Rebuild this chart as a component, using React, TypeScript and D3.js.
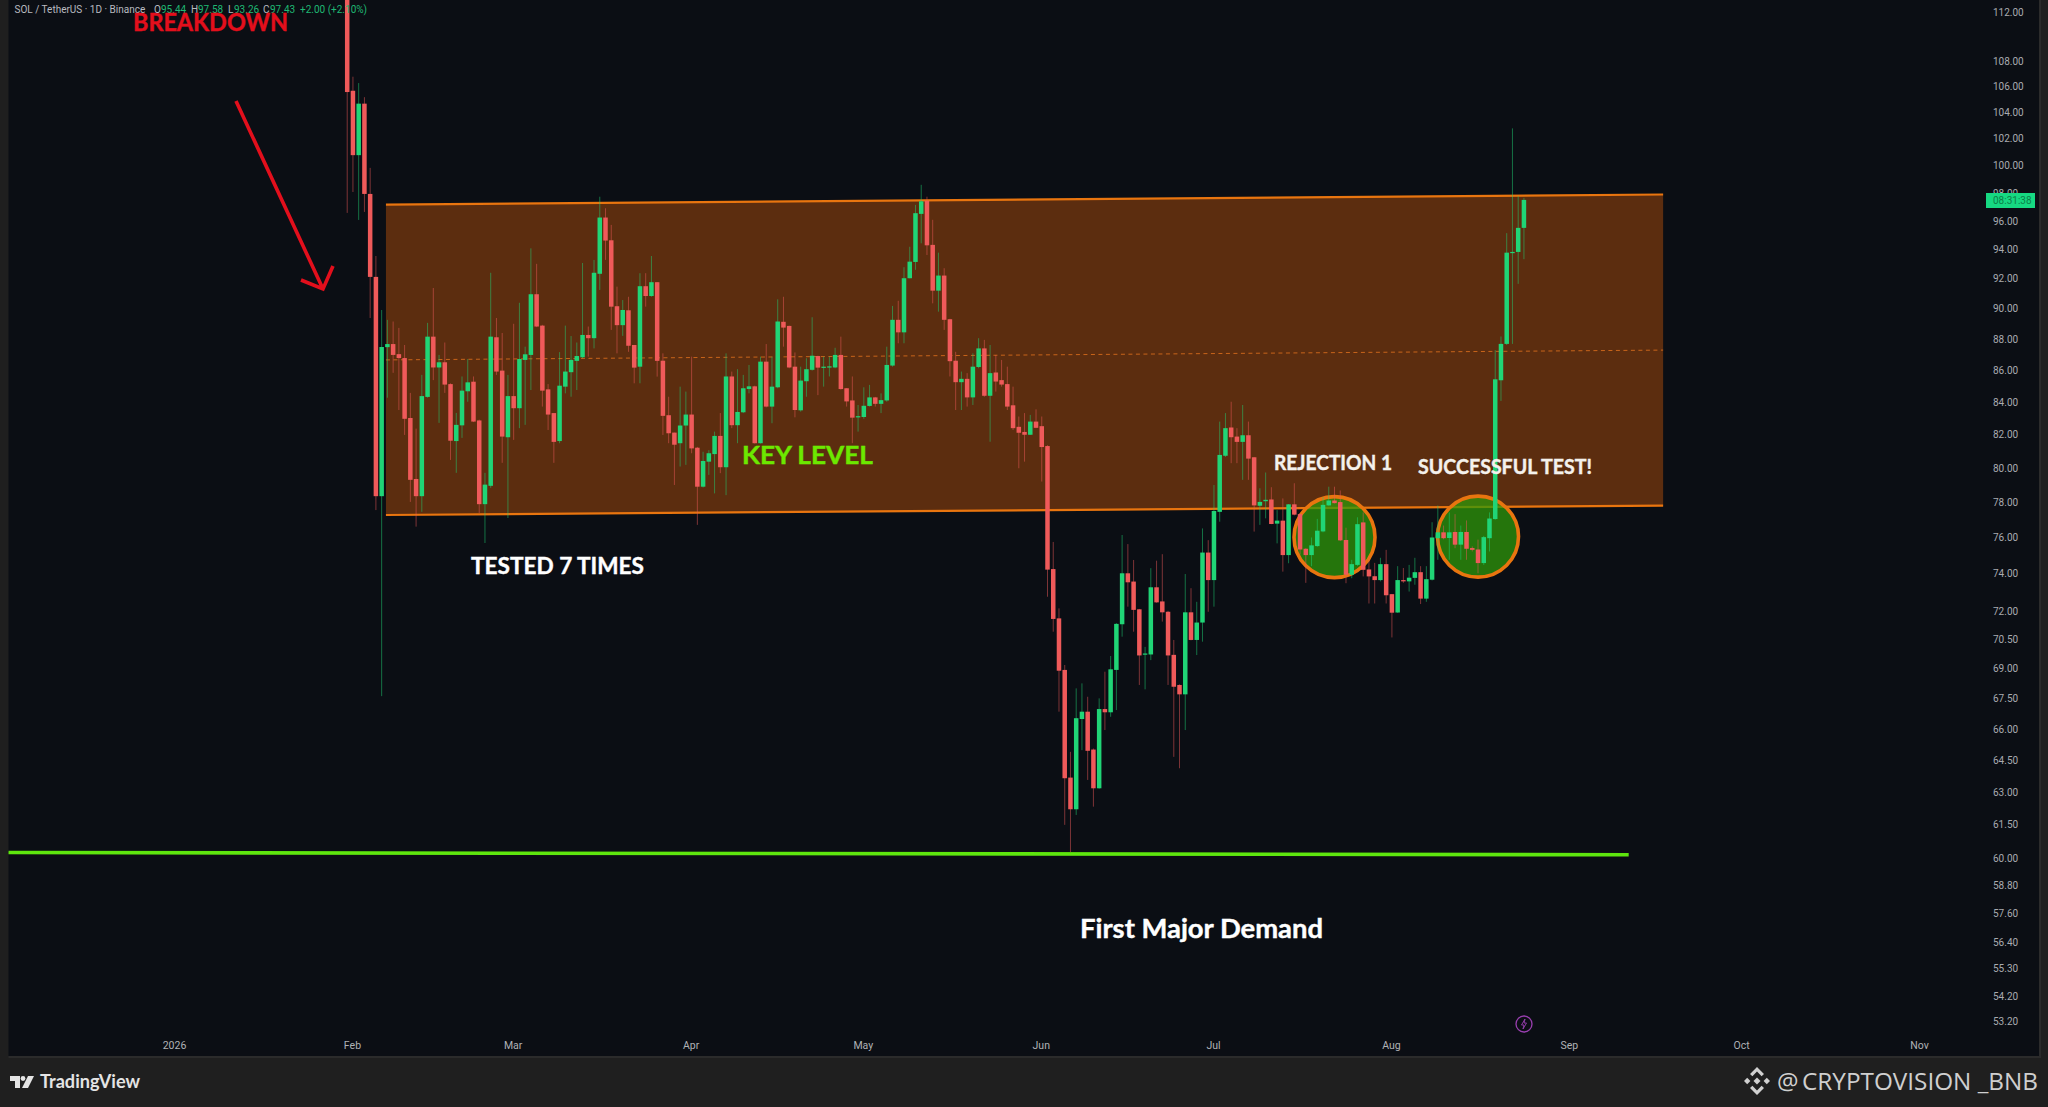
import React, { useEffect, useRef } from 'react';
import * as d3 from 'd3';

// daily candles, first one is 31 Jan 2026
const firstDay = new Date(Date.UTC(2026, 0, 31));

const opens = [
  116,105.6,100.7,104.6,97.86,92.05,78.3,
  87.4,87.6,86.95,86.7,82.95,79.3,78.3,
  84.25,88.08,86.1,86.43,85.05,81.55,82.5,84.6,85.2,82.8,
  77.84,78.9,88.04,85.9,81.78,84.3,83.55,86.58,86.9,90.88,
  88.8,84.72,83.25,81.55,84.89,85.8,86.52,86.75,88.19,87.98,
  92.26,96.17,94.57,90.08,88.83,89.81,87.54,86.15,91.42,90.76,
  91.69,86.53,83.12,82.06,
  81.42,82.49,83.16,81.15,78.85,80.32,80.77,81.86,79.99,85.53,
  82.51,83.3,84.74,84.91,81.42,86.47,83.65,84.85,89.05,88.78,
  86.15,83.42,85.23,85.95,86.83,86.09,86.1,86.1,86.9,84.79,
  84.03,83.01,83.01,83.69,84.22,83.82,84.03,86.22,89.18,88.36,
  91.96,93.07,96.43,97.37,94.25,91.12,92.14,89.22,86.53,85.17,
  85.38,84.22,86.13,87.32,84.32,85.78,85.3,85.05,83.73,82.41,
  82.1,81.93,82.73,82.45,
  81.25,74.2,71.55,68.88,63.62,62.15,66.43,66.79,64.95,63.12,
  66.92,66.76,68.88,71.24,73.97,73.52,72.03,69.67,69.67,73.21,
  72.45,71.9,69.65,68.12,67.65,71.87,70.42,71.33,75.11,73.6,
  77.4,80.67,82.37,81.82,81.5,81.9,80.58,77.75,78.01,78.11,
  76.73,76.9,74.97,77.83,77.27,75.32,74.97,75.47,76.29,77.77,
  78.05,77.96,75.81,73.89,74.43,76.8,74.18,73.81,73.6,74.47,
  72.84,71.86,73.6,73.53,73.72,74.03,72.6,73.62,75.91,76.24,
  75.92,76.26,75.55,76.26,75.36,75.28,74.53,75.91,76.99,85.29,
  87.61,93.69,93.76,95.44,
];

const highs = [
  118,106.7,106.2,105.1,99.76,93.48,89.83,
  89.18,89.07,88.65,87.54,84.5,82.3,85.63,
  88.98,91.3,86.9,87.7,85.1,83.26,85.53,86.64,85.53,82.85,
  79.66,92.33,89.3,88.32,85.63,88.92,90.31,87.43,94.01,92.94,
  88.85,85.05,83.25,87.08,88.8,88.12,87.7,93.0,88.74,93.21,
  97.66,96.83,95.65,91.39,90.49,90.71,87.54,92.3,92.3,93.48,
  91.7,87.0,84.26,82.06,
  84.89,84.58,86.79,81.2,80.91,81.0,82.12,83.25,87.0,85.84,
  85.99,85.63,86.26,84.95,86.79,87.6,86.79,90.54,90.71,88.8,
  87.06,86.15,86.69,89.35,86.85,86.79,86.79,87.36,88.08,84.8,
  85.53,83.75,84.85,85.0,84.25,84.47,87.43,90.1,90.44,92.71,
  94.12,97.07,98.52,97.66,96.01,93.71,92.64,89.25,87.1,85.84,
  85.74,87.0,87.98,87.87,87.54,86.9,86.58,86.15,84.89,83.04,
  83.25,83.14,83.48,83.04,
  81.3,75.7,72.08,69.13,64.84,67.95,68.2,67.53,65.0,67.45,
  68.79,69.59,71.3,76.09,75.58,74.7,72.05,70.06,74.25,74.66,
  75.02,71.95,70.42,68.15,73.93,73.16,72.43,76.46,75.8,78.95,
  82.73,83.25,83.95,82.33,83.75,82.73,80.6,78.76,79.68,78.82,
  77.5,78.17,77.85,79.05,77.3,75.35,75.95,77.0,78.25,78.85,
  78.85,78.63,76.5,74.71,77.09,77.37,74.9,74.54,74.82,75.26,
  72.85,74.36,74.26,74.43,74.82,74.36,74.36,76.81,77.76,76.62,
  77.37,77.27,76.62,76.91,75.45,75.83,76.04,77.37,87.21,88.09,
  95.07,102.71,97.7,97.58,
];

const lows = [
  96.5,98,96,96.57,89.3,77.5,67.56,
  84.2,85.76,83.44,81.92,77.97,76.56,77.4,
  84.2,85.3,82.65,84.5,80.42,79.66,81.74,83.95,82.7,77.33,
  75.64,78.78,85.63,80.25,77.05,81.62,82.33,82.53,84.68,88.7,
  83.65,82.22,80.25,81.42,84.47,84.26,84.68,86.68,86.79,87.32,
  91.17,93.21,88.52,87.0,88.13,87.1,85.1,85.1,90.05,90.71,
  85.52,81.92,81.42,78.95,
  80.03,80.13,80.82,76.66,78.8,79.54,78.46,79.64,78.36,82.33,
  81.42,83.25,84.47,81.4,81.4,83.6,82.63,84.79,87.43,86.05,
  82.99,83.34,84.26,85.9,84.36,84.89,85.53,86.05,84.7,83.65,
  81.42,82.12,82.9,83.65,83.65,83.25,83.95,86.15,87.65,87.65,
  91.95,92.53,94.36,93.55,90.27,89.72,88.52,85.53,83.44,83.44,
  83.65,83.75,86.05,84.26,81.51,84.58,84.89,83.44,82.22,79.93,
  80.32,81.92,82.33,79.15,
  72.7,70.85,66.79,61.44,60.22,61.89,64.92,63.51,62.27,63.1,
  65.89,66.54,66.87,70.59,72.17,70.85,68.12,67.9,69.38,72.38,
  71.38,68.12,64.6,64.06,65.89,70.4,69.64,70.33,71.9,72.17,
  76.84,80.6,80.23,80.23,79.25,79.25,76.28,76.66,77.03,76.7,
  75.62,74.06,74.52,77.2,75.0,73.45,74.36,75.43,76.24,77.75,
  77.88,75.75,73.43,73.7,74.37,73.8,72.34,72.34,73.53,72.34,
  70.55,71.84,73.45,72.98,73.35,72.31,72.43,73.58,74.71,75.85,
  74.71,75.35,74.71,74.71,75.17,73.97,74.43,75.17,76.95,84.0,
  87.54,87.61,91.58,93.26,
];

const closes = [
  105.5,100.7,104.6,97.86,92.05,78.3,87.41,
  87.6,86.9,86.7,82.9,79.25,78.3,84.3,
  88.08,86.1,86.43,85.02,81.57,82.53,84.64,85.16,82.73,77.84,
  78.97,88.08,85.84,81.82,84.3,83.55,86.64,86.94,90.88,88.74,
  84.64,83.16,81.5,84.95,85.84,86.58,86.83,88.19,87.98,92.33,
  96.17,94.55,90.05,88.83,89.83,87.49,86.09,91.42,90.76,91.69,
  86.52,83.08,82.02,81.33,
  82.49,83.16,81.11,78.85,80.36,80.82,81.86,79.99,85.53,82.51,
  83.32,84.79,84.91,81.42,86.47,83.65,84.89,89.07,88.67,86.1,
  83.44,85.27,85.99,86.85,86.09,86.15,86.17,86.9,84.74,83.97,
  82.97,83.06,83.7,84.22,83.82,84.05,86.26,89.18,88.36,91.96,
  93.09,96.48,97.33,94.22,91.12,92.14,89.18,86.5,85.17,85.38,
  84.22,86.15,87.32,84.32,85.74,85.21,85.02,83.65,82.33,82.05,
  81.93,82.73,82.35,81.19,
  74.17,71.52,68.84,63.59,62.15,66.47,66.79,64.89,63.12,66.92,
  66.76,68.91,71.26,73.97,73.48,72.0,69.62,69.72,73.21,72.4,
  71.87,69.62,68.03,67.65,71.87,70.42,71.33,75.11,73.6,77.45,
  80.72,82.33,81.78,81.5,81.9,80.5,77.77,77.97,78.09,76.71,
  76.9,74.97,77.83,77.24,75.28,74.97,75.51,76.33,77.8,78.05,
  77.9,75.79,73.89,74.47,76.7,74.16,73.8,73.6,74.47,72.78,
  71.85,73.6,73.53,73.73,74.03,72.6,73.65,75.95,76.24,75.91,
  76.24,75.55,76.26,75.32,75.26,74.53,75.97,77.02,85.35,87.61,
  93.71,93.76,95.44,97.43,
];

const priceTicks = [
  112, 108, 106, 104, 102, 100, 98, 96, 94, 92, 90, 88, 86, 84, 82, 80, 78, 76, 74, 72,
  70.5, 69, 67.5, 66, 64.5, 63, 61.5, 60, 58.8, 57.6, 56.4, 55.3, 54.2, 53.2,
];
const monthTicks = [0, 1, 2, 3, 4, 5, 6, 7, 8, 9, 10].map(m => new Date(Date.UTC(2026, m, 1)));
const monthLabels = ['2026', 'Feb', 'Mar', 'Apr', 'May', 'Jun', 'Jul', 'Aug', 'Sep', 'Oct', 'Nov'];

// the drawn channel: dates, then prices at those two dates
const bandDates = [new Date(Date.UTC(2026, 1, 6, 18)), new Date(Date.UTC(2026, 8, 17, 6))];
const bandTop = [97.09, 97.82];
const bandMid = [86.58, 87.21];
const bandBottom = [77.22, 77.76];

const supportDates = [new Date(Date.UTC(2025, 11, 3)), new Date(Date.UTC(2026, 8, 11, 6))];
const supportPrices = [60.2, 60.1];

const circleDates = [new Date(Date.UTC(2026, 6, 22)), new Date(Date.UTC(2026, 7, 16))];
const circlePrices = [75.97, 76.0];

const legendParts = [
  { x: 14.5, t: 'SOL / TetherUS · 1D · Binance', c: '#b9bbc0' },
  { x: 154, t: 'O', c: '#b9bbc0' },
  { x: 161, t: '95.44', c: '#1fb873' },
  { x: 191, t: 'H', c: '#b9bbc0' },
  { x: 198, t: '97.58', c: '#1fb873' },
  { x: 228, t: 'L', c: '#b9bbc0' },
  { x: 234, t: '93.26', c: '#1fb873' },
  { x: 263, t: 'C', c: '#b9bbc0' },
  { x: 270, t: '97.43', c: '#1fb873' },
  { x: 300, t: '+2.00 (+2.10%)', c: '#1fb873' },
];

const notes = [
  { x: 133, y: 31, t: 'BREAKDOWN', c: '#e30f1c', size: 24, len: 155 },
  { x: 742, y: 464, t: 'KEY LEVEL', c: '#6ce800', size: 25, len: 131 },
  { x: 471, y: 574, t: 'TESTED 7 TIMES', c: '#ffffff', size: 22, len: 173 },
  { x: 1274, y: 470, t: 'REJECTION 1', c: '#f4f1ec', size: 20, len: 118 },
  { x: 1418, y: 474, t: 'SUCCESSFUL TEST!', c: '#f4f1ec', size: 20, len: 174 },
  { x: 1080, y: 938, t: 'First Major Demand', c: '#ffffff', size: 26, len: 243 },
];

const W = 2048;
const H = 1107;
const GREEN = '#20d576';
const RED = '#ef5a5a';
const ORANGE = '#e9750f';

export default function App() {
  const ref = useRef<SVGSVGElement>(null);

  useEffect(() => {
    const svg = d3.select(ref.current);
    svg.selectAll('*').remove();

    const x = d3
      .scaleUtc()
      .domain([new Date(Date.UTC(2026, 0, 1)), new Date(Date.UTC(2026, 10, 1))])
      .range([175, 1920]);
    const y = d3.scaleLog().domain([112, 60]).range([11, 857]);

    // background and frame
    svg.append('rect').attr('width', W).attr('height', H).attr('fill', '#1f1f1f');
    svg.append('rect').attr('x', 8.5).attr('y', 0).attr('width', 2030.5).attr('height', 1056).attr('fill', '#0b0e14');
    svg.append('rect').attr('x', 8.5).attr('y', 1056).attr('width', 2030.5).attr('height', 2).attr('fill', '#2b2b2b');
    svg.append('rect').attr('x', 2039).attr('y', 0).attr('width', 2).attr('height', 1058).attr('fill', '#2b2b2b');

    // channel
    svg
      .append('polygon')
      .attr(
        'points',
        [
          [x(bandDates[0]), y(bandTop[0])],
          [x(bandDates[1]), y(bandTop[1])],
          [x(bandDates[1]), y(bandBottom[1])],
          [x(bandDates[0]), y(bandBottom[0])],
        ].join(' '),
      )
      .attr('fill', '#5c2d0f');
    const bandLines = [bandTop, bandBottom];
    svg
      .selectAll('.band-edge')
      .data(bandLines)
      .enter()
      .append('line')
      .attr('x1', x(bandDates[0]))
      .attr('x2', x(bandDates[1]))
      .attr('y1', d => y(d[0]))
      .attr('y2', d => y(d[1]))
      .attr('stroke', ORANGE)
      .attr('stroke-width', 2.2);
    svg
      .append('line')
      .attr('x1', x(bandDates[0]))
      .attr('x2', x(bandDates[1]))
      .attr('y1', y(bandMid[0]))
      .attr('y2', y(bandMid[1]))
      .attr('stroke', '#c8641a')
      .attr('stroke-width', 1)
      .attr('stroke-dasharray', '4 3.5');

    // support line
    svg
      .append('line')
      .attr('x1', x(supportDates[0]))
      .attr('x2', x(supportDates[1]))
      .attr('y1', y(supportPrices[0]))
      .attr('y2', y(supportPrices[1]))
      .attr('stroke', '#5ee60e')
      .attr('stroke-width', 3.6);

    // circles
    svg
      .selectAll('.test-circle')
      .data(circleDates)
      .enter()
      .append('circle')
      .attr('cx', d => x(d))
      .attr('cy', (d, i) => y(circlePrices[i]))
      .attr('r', 40.5)
      .attr('fill', 'rgb(47,152,9)')
      .attr('fill-opacity', 0.75)
      .attr('stroke', ORANGE)
      .attr('stroke-width', 3.6);

    // candles
    const candles = opens.map((o, i) => ({
      day: d3.utcDay.offset(firstDay, i),
      o,
      h: highs[i],
      l: lows[i],
      c: closes[i],
    }));
    const bodyW = 4.5;
    svg
      .selectAll('.wick')
      .data(candles)
      .enter()
      .append('line')
      .attr('x1', d => x(d.day))
      .attr('x2', d => x(d.day))
      .attr('y1', d => y(d.h))
      .attr('y2', d => y(d.l))
      .attr('stroke', d => (d.c >= d.o ? GREEN : RED))
      .attr('stroke-opacity', 0.5)
      .attr('stroke-width', 1);
    svg
      .selectAll('.body')
      .data(candles)
      .enter()
      .append('rect')
      .attr('x', d => x(d.day) - bodyW / 2)
      .attr('width', bodyW)
      .attr('y', d => y(Math.max(d.o, d.c)))
      .attr('height', d => Math.max(1.2, y(Math.min(d.o, d.c)) - y(Math.max(d.o, d.c))))
      .attr('fill', d => (d.c >= d.o ? GREEN : RED));

    // price axis
    const yAxis = d3
      .axisRight(y)
      .tickValues(priceTicks)
      .tickSize(0)
      .tickPadding(0)
      .tickFormat(d3.format('.2f') as any);
    const gy = svg.append('g').attr('transform', 'translate(1993,1)').call(yAxis as any);
    gy.select('.domain').remove();
    gy.selectAll('text').attr('font-family', 'Roboto').attr('font-size', 10).attr('fill', '#a9abb0');

    // time axis
    const xAxis = d3
      .axisBottom(x)
      .tickValues(monthTicks)
      .tickSize(0)
      .tickPadding(3)
      .tickFormat((d, i) => monthLabels[i]);
    const gx = svg.append('g').attr('transform', 'translate(-1,1039)').call(xAxis as any);
    gx.select('.domain').remove();
    gx.selectAll('text').attr('font-family', 'Roboto').attr('font-size', 10.5).attr('fill', '#b0b2b6');

    // countdown tag on the last price
    svg.append('rect').attr('x', 1986).attr('y', 193).attr('width', 49).attr('height', 15).attr('fill', '#16d982');
    svg
      .append('text')
      .attr('x', 1993)
      .attr('y', 204)
      .attr('font-family', 'Roboto')
      .attr('font-size', 10)
      .attr('fill', '#0c8048')
      .text('08:31:38');

    // legend line
    svg
      .selectAll('.legend')
      .data(legendParts)
      .enter()
      .append('text')
      .attr('x', d => d.x)
      .attr('y', 13)
      .attr('font-family', 'Roboto')
      .attr('font-size', 10)
      .attr('fill', d => d.c)
      .text(d => d.t);

    // annotations
    svg
      .selectAll('.note')
      .data(notes)
      .enter()
      .append('text')
      .attr('x', d => d.x)
      .attr('y', d => d.y)
      .attr('font-family', 'Lato')
      .attr('font-weight', 700)
      .attr('font-size', d => d.size)
      .attr('fill', d => d.c)
      .attr('stroke', d => d.c)
      .attr('stroke-width', 0.4)
      .attr('textLength', d => d.len)
      .attr('lengthAdjust', 'spacingAndGlyphs')
      .text(d => d.t);

    // red arrow
    const arrow = d3.line();
    svg
      .append('path')
      .attr('d', arrow([[236, 101], [323, 289]]) + arrow([[301, 280], [323, 289], [333, 266]]))
      .attr('fill', 'none')
      .attr('stroke', '#e30f1c')
      .attr('stroke-width', 3.6);

    // lightning badge
    const badge = svg.append('g').attr('transform', 'translate(1524,1024)');
    badge.append('circle').attr('r', 8).attr('fill', 'none').attr('stroke', '#9a3fb0').attr('stroke-width', 1.3);
    badge
      .append('path')
      .attr('d', 'M1,-5 L-2.5,1 L0,1 L-1,5 L2.5,-1 L0,-1 Z')
      .attr('fill', 'none')
      .attr('stroke', '#9a3fb0')
      .attr('stroke-width', 0.9);

    // footer, TradingView
    const tv = svg.append('g').attr('fill', '#e4e4e4');
    tv.append('path').attr('d', 'M10,1076 H20 V1088 H15 V1081 H10 Z');
    tv.append('circle').attr('cx', 23).attr('cy', 1078.5).attr('r', 2.4);
    tv.append('path').attr('d', 'M28,1076 H34 L28,1088 H22 Z');
    svg
      .append('text')
      .attr('x', 40)
      .attr('y', 1088)
      .attr('font-family', 'Lato')
      .attr('font-weight', 700)
      .attr('font-size', 18)
      .attr('fill', '#e4e4e4')
      .attr('textLength', 100)
      .attr('lengthAdjust', 'spacingAndGlyphs')
      .text('TradingView');

    // footer, watermark
    const bn = svg.append('g').attr('transform', 'translate(1757,1081)').attr('fill', '#d0d0d0');
    bn.append('path').attr('d', 'M0,-3.5 L3.5,0 L0,3.5 L-3.5,0 Z');
    bn.append('path').attr('d', 'M0,-14 L7,-7 L4.6,-4.8 L0,-9.4 L-4.6,-4.8 L-7,-7 Z');
    bn.append('path').attr('d', 'M0,14 L7,7 L4.6,4.8 L0,9.4 L-4.6,4.8 L-7,7 Z');
    bn.append('path').attr('d', 'M-13,0 L-9.8,-3.2 L-6.6,0 L-9.8,3.2 Z');
    bn.append('path').attr('d', 'M13,0 L9.8,-3.2 L6.6,0 L9.8,3.2 Z');
    svg
      .append('text')
      .attr('x', 1777)
      .attr('y', 1090)
      .attr('font-family', 'Open Sans')
      .attr('font-size', 24)
      .attr('fill', '#cfcfcf')
      .text('@');
    svg
      .append('text')
      .attr('x', 1802)
      .attr('y', 1090)
      .attr('font-family', 'Open Sans')
      .attr('font-size', 24)
      .attr('fill', '#cfcfcf')
      .attr('textLength', 236)
      .attr('lengthAdjust', 'spacingAndGlyphs')
      .text('CRYPTOVISION _BNB');
  }, []);

  return <svg ref={ref} width={W} height={H} style={{ position: 'absolute', left: 0, top: 0, display: 'block' }} />;
}
